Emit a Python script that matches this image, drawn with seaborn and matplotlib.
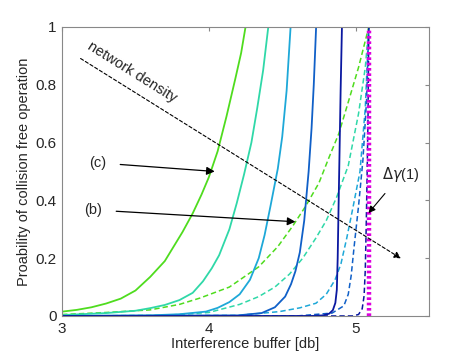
import matplotlib
matplotlib.use("Agg")
import matplotlib.pyplot as plt
import seaborn as sns
import pandas as pd

# ---- data ----
s1_x = [3.0, 3.1, 3.2, 3.3, 3.4, 3.5, 3.6, 3.7, 3.76, 3.82, 3.89, 3.95, 4.0, 4.06, 4.12, 4.18, 4.22, 4.25, 5.5]
s1_y = [0.015, 0.021, 0.03, 0.043, 0.06, 0.088, 0.135, 0.19, 0.24, 0.29, 0.355, 0.42, 0.48, 0.57, 0.69, 0.82, 0.91, 1.0, 1.0]
s2_x = [3.0, 3.3, 3.5, 3.6, 3.7, 3.8, 3.89, 3.96, 4.02, 4.07, 4.14, 4.19, 4.24, 4.29, 4.33, 4.37, 4.405, 5.5]
s2_y = [0.003, 0.01, 0.018, 0.027, 0.038, 0.055, 0.08, 0.12, 0.165, 0.21, 0.3, 0.39, 0.49, 0.6, 0.72, 0.85, 1.0, 1.0]
s3_x = [3.0, 3.6, 3.8, 3.98, 4.06, 4.14, 4.21, 4.28, 4.34, 4.38, 4.42, 4.47, 4.5, 4.53, 4.557, 5.5]
s3_y = [0.0, 0.002, 0.006, 0.015, 0.028, 0.048, 0.075, 0.125, 0.2, 0.28, 0.38, 0.51, 0.62, 0.78, 1.0, 1.0]
s4_x = [3.0, 4.2, 4.36, 4.45, 4.52, 4.56, 4.59, 4.62, 4.65, 4.68, 4.7, 4.715, 4.731, 5.5]
s4_y = [0.0, 0.002, 0.01, 0.03, 0.067, 0.11, 0.155, 0.22, 0.33, 0.5, 0.65, 0.8, 1.0, 1.0]
s5_x = [3.0, 4.7, 4.78, 4.82, 4.845, 4.862, 4.872, 4.878, 4.883, 4.89, 4.898, 4.907, 5.5]
s5_y = [0.0, 0.0, 0.002, 0.008, 0.02, 0.045, 0.09, 0.2, 0.35, 0.55, 0.78, 1.0, 1.0]

d1_x = [3.0, 3.3, 3.6, 3.8, 3.94, 4.14, 4.34, 4.47, 4.57, 4.66, 4.75, 4.82, 4.885, 4.95, 5.02, 5.09, 5.5]
d1_y = [0.005, 0.012, 0.021, 0.04, 0.062, 0.10, 0.17, 0.24, 0.31, 0.38, 0.46, 0.55, 0.63, 0.74, 0.86, 1.0, 1.0]
d2_x = [3.0, 3.7, 4.0, 4.21, 4.34, 4.45, 4.55, 4.64, 4.73, 4.8, 4.87, 4.95, 5.02, 5.066, 5.09, 5.5]
d2_y = [0.0, 0.002, 0.012, 0.04, 0.067, 0.1, 0.145, 0.2, 0.27, 0.33, 0.41, 0.52, 0.70, 0.86, 1.0, 1.0]
d3_x = [3.0, 4.2, 4.48, 4.62, 4.73, 4.8, 4.86, 4.9, 4.94, 4.98, 5.03, 5.066, 5.09, 5.5]
d3_y = [0.0, 0.002, 0.015, 0.028, 0.044, 0.075, 0.125, 0.18, 0.27, 0.37, 0.5, 0.72, 1.0, 1.0]
d4_x = [3.0, 4.6, 4.84, 4.92, 4.95, 4.97, 4.99, 5.02, 5.05, 5.075, 5.09, 5.5]
d4_y = [0.0, 0.0, 0.01, 0.035, 0.075, 0.14, 0.24, 0.38, 0.54, 0.75, 1.0, 1.0]
d5_x = [3.0, 4.98, 5.02, 5.045, 5.058, 5.066, 5.072, 5.078, 5.085, 5.09, 5.5]
d5_y = [0.0, 0.0, 0.005, 0.025, 0.07, 0.16, 0.3, 0.47, 0.7, 1.0, 1.0]

delta_x = [5.09, 5.09]
delta_y = [0.0, 1.0]

colors = ["#4fdc1e", "#2fd8a8", "#1ea8d8", "#1060c8", "#0a18a0"]
solid = [(s1_x, s1_y), (s2_x, s2_y), (s3_x, s3_y), (s4_x, s4_y), (s5_x, s5_y)]
dashed = [(d1_x, d1_y), (d2_x, d2_y), (d3_x, d3_y), (d4_x, d4_y), (d5_x, d5_y)]

x_ticks = [3, 4, 5]
y_ticks = [0, 0.2, 0.4, 0.6, 0.8, 1.0]
y_ticklabels = ["0", "0.2", "0.4", "0.6", "0.8", "1"]

sns.set_style("white")
plt.rcParams["font.family"] = ["Liberation Sans", "DejaVu Sans"]

fig = plt.figure(figsize=(4.74, 3.55), dpi=100)
ax = fig.add_axes([0.131, 0.110, 0.774, 0.814])

for (xs, ys), c in zip(dashed, colors):
    sns.lineplot(x=xs, y=ys, ax=ax, color=c, lw=1.1, linestyle=(0, (3.5, 2)),
                 sort=False, estimator=None)
for (xs, ys), c in zip(solid, colors):
    sns.lineplot(x=xs, y=ys, ax=ax, color=c, lw=1.3, sort=False, estimator=None)

sns.lineplot(x=delta_x, y=delta_y, ax=ax, color="#dd00dd", lw=3.2,
             linestyle=(0, (0.6, 0.6)), sort=False, estimator=None)

ax.set_xlim(3, 5.5)
ax.set_ylim(0, 1)
ax.set_xticks(x_ticks)
ax.set_xticklabels([str(t) for t in x_ticks])
ax.set_yticks(y_ticks)
ax.set_yticklabels(y_ticklabels)
ax.tick_params(direction="in", length=3, top=True, right=True, labelsize=11,
               color="#888888", pad=4)
for sp in ax.spines.values():
    sp.set_color("#888888")
    sp.set_linewidth(0.8)

ax.set_xlabel("Interference buffer [db]", fontsize=10.5, labelpad=1)
ax.set_ylabel("Proability of collision free operation", fontsize=10.5, labelpad=3)

# network density arrow
ax.annotate("", xy=(5.325, 0.194), xytext=(3.11, 0.896),
            arrowprops=dict(arrowstyle="-|>", linestyle=(0, (3, 2)), color="black",
                            lw=0.8, mutation_scale=10))
ax.text(3.48, 0.845, "network density", rotation=-32, ha="center", va="center",
        fontsize=10.5, rotation_mode="anchor")

ax.annotate("(c)", xy=(4.04, 0.50), xytext=(3.24, 0.53), ha="center", va="center",
            fontsize=10.5,
            arrowprops=dict(arrowstyle="-|>", color="black", lw=0.9,
                            mutation_scale=12, shrinkA=8, shrinkB=0))
ax.annotate("(b)", xy=(4.59, 0.326), xytext=(3.21, 0.367), ha="center", va="center",
            fontsize=10.5,
            arrowprops=dict(arrowstyle="-|>", color="black", lw=0.9,
                            mutation_scale=12, shrinkA=8, shrinkB=0))
ax.annotate(r"$\Delta\gamma$(1)", xy=(5.088, 0.356), xytext=(5.31, 0.49),
            ha="center", va="center", fontsize=10.5,
            arrowprops=dict(arrowstyle="-|>", color="black", lw=0.8,
                            mutation_scale=10, shrinkA=6, shrinkB=0))

fig.savefig("out.png", dpi=100)
